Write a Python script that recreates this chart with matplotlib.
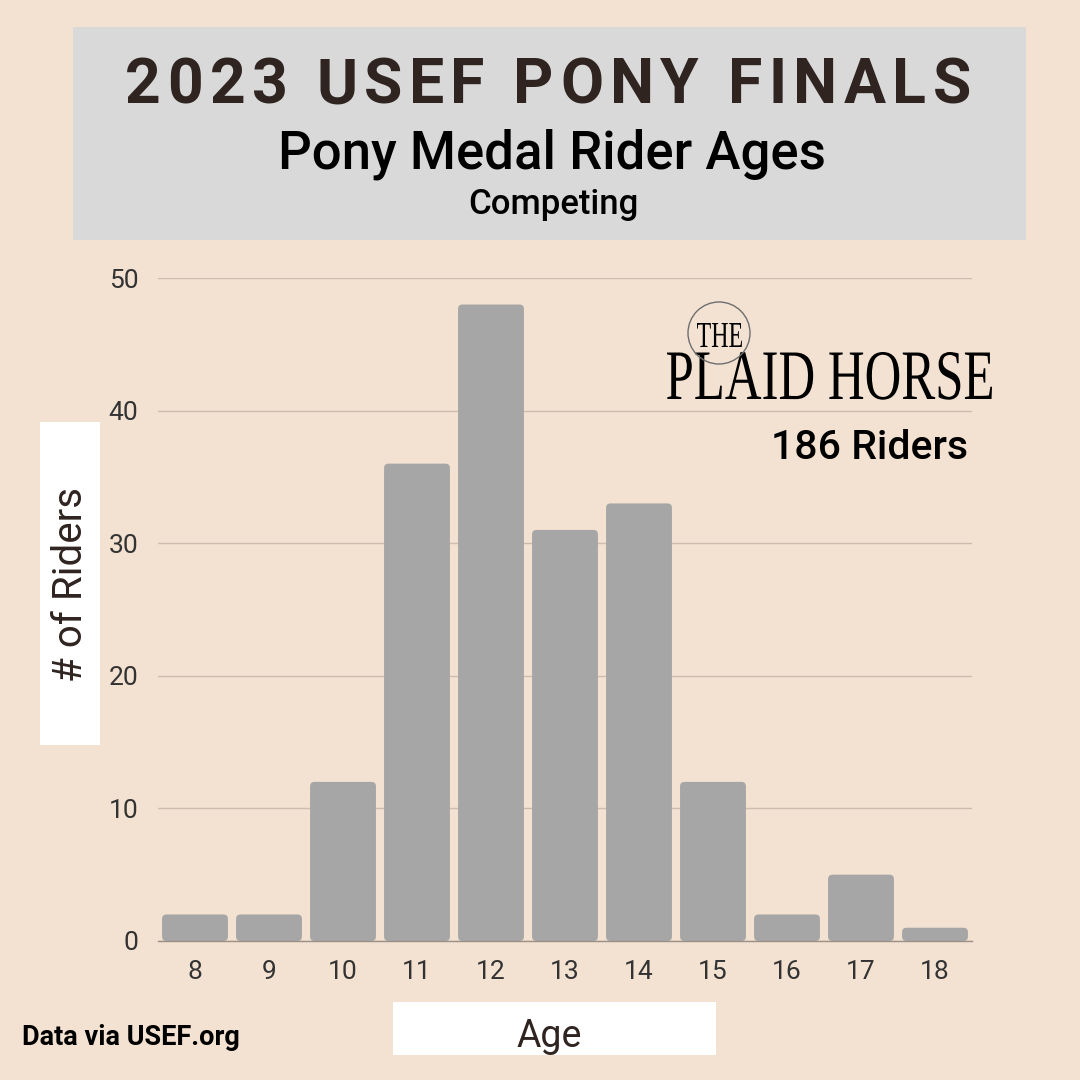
import matplotlib
matplotlib.use("Agg")
import matplotlib.pyplot as plt
from matplotlib.patches import Rectangle, Circle, PathPatch, FancyBboxPatch
from matplotlib.textpath import TextPath
from matplotlib.font_manager import FontProperties
from matplotlib.transforms import Affine2D

# Daten
alter = ["8", "9", "10", "11", "12", "13", "14", "15", "16", "17", "18"]
reiter = [2, 2, 12, 36, 48, 31, 33, 12, 2, 5, 1]
y_ticks = [0, 10, 20, 30, 40, 50]

titel = "2023 USEF PONY FINALS"
untertitel = "Pony Medal Rider Ages"
zusatz = "Competing"
gesamt = "186 Riders"
quelle = "Data via USEF.org"

hintergrund = "#f3e2d2"
dunkel = "#2f2420"
balken_farbe = "#a6a6a6"

plt.rcParams["font.family"] = ["Roboto", "DejaVu Sans"]

fig = plt.figure(figsize=(10.8, 10.8), dpi=100)
fig.patch.set_facecolor(hintergrund)

# Overlay in Pixelkoordinaten (y nach unten)
ov = fig.add_axes([0, 0, 1, 1], zorder=0)
ov.set_xlim(0, 1080)
ov.set_ylim(1080, 0)
ov.axis("off")

# Titelbox
ov.add_patch(Rectangle((73, 27), 953, 213, facecolor="#d9d9d9", edgecolor="none"))

# Titel mit Zeichenabstand
fig.canvas.draw()
renderer = fig.canvas.get_renderer()

def breite(text, **kw):
    t = ov.text(0, 0, text, **kw)
    w = t.get_window_extent(renderer).width
    t.remove()
    return w

def gesperrt(text, xc, y, track, **kw):
    gesamt_breite = breite(text, **kw) + track * (len(text) - 1)
    x0 = xc - gesamt_breite / 2
    for i, ch in enumerate(text):
        x = x0 + (breite(text[:i], **kw) if i > 0 else 0) + track * i
        ov.text(x, y, ch, ha="left", va="baseline", **kw)

gesperrt(titel, 548, 103, 6.5, fontsize=45, fontweight="bold", color=dunkel)
ov.text(552, 168, untertitel, ha="center", va="baseline", fontsize=38, fontweight="medium", color="black")
ov.text(553, 214, zusatz, ha="center", va="baseline", fontsize=25, fontweight="medium", color="black")

# Label-Boxen
ov.add_patch(Rectangle((40, 422), 60, 323, facecolor="white", edgecolor="none"))
ov.text(70, 584, "# of Riders", rotation=90, ha="center", va="center", fontsize=29, color=dunkel)
ov.add_patch(Rectangle((393, 1002), 323, 53, facecolor="white", edgecolor="none"))
ov.text(549, 1047, "Age", ha="center", va="baseline", fontsize=27, color=dunkel)
ov.text(22, 1045, quelle, ha="left", va="baseline", fontsize=19.5, fontweight="bold", color="black")

# Logo
def logo_text(text, x, baseline, w, h):
    p = TextPath((0, 0), text, size=1, prop=FontProperties(family="Liberation Serif"))
    e = p.get_extents()
    tr = Affine2D().translate(-e.x0, 0).scale(w / e.width, -h / e.y1).translate(x, baseline)
    ov.add_patch(PathPatch(tr.transform_path(p), facecolor="black", edgecolor="none", zorder=3))

logo_text("PLAID HORSE", 667, 399, 325, 47)
logo_text("THE", 697, 347, 45, 24)
ov.add_patch(Circle((719, 333), 31, facecolor="none", edgecolor="#6e6e6e", lw=1, zorder=3))
ov.text(968, 459, gesamt, ha="right", va="baseline", fontsize=29.5, fontweight="medium", color="black", zorder=3)

# Diagramm
ax = fig.add_axes([158 / 1080, 1 - 941 / 1080, (972 - 158) / 1080, (941 - 278) / 1080], zorder=1)
ax.patch.set_alpha(0)
balken = ax.bar(range(len(alter)), reiter, width=0.89, color=balken_farbe, zorder=2)
ax.set_xlim(-0.5, len(alter) - 0.5)
ax.set_ylim(0, 50)

# Balken mit leicht abgerundeten Ecken
px_x = (972 - 158) / len(alter)
px_y = (941 - 278) / 50
for b in balken:
    b.set_visible(False)
    ax.add_patch(FancyBboxPatch((b.get_x(), b.get_y()), b.get_width(), b.get_height(),
                                boxstyle="round,pad=0,rounding_size=0.06",
                                mutation_aspect=px_x / px_y,
                                facecolor=balken_farbe, edgecolor="none", zorder=2))

ax.set_yticks(y_ticks)
ax.set_xticks(range(len(alter)))
ax.set_xticklabels(alter)
ax.grid(axis="y", color="#cbbdae", lw=1, zorder=0)
ax.tick_params(axis="both", length=0, labelsize=19, colors="#333333")
ax.tick_params(axis="y", pad=14)
ax.tick_params(axis="x", pad=14)
for s in ["top", "right", "left"]:
    ax.spines[s].set_visible(False)
ax.spines["bottom"].set_color("#9a9088")
ax.spines["bottom"].set_linewidth(1)
ax.spines["bottom"].set_zorder(3)

fig.savefig("out.png", dpi=100, facecolor=hintergrund)
